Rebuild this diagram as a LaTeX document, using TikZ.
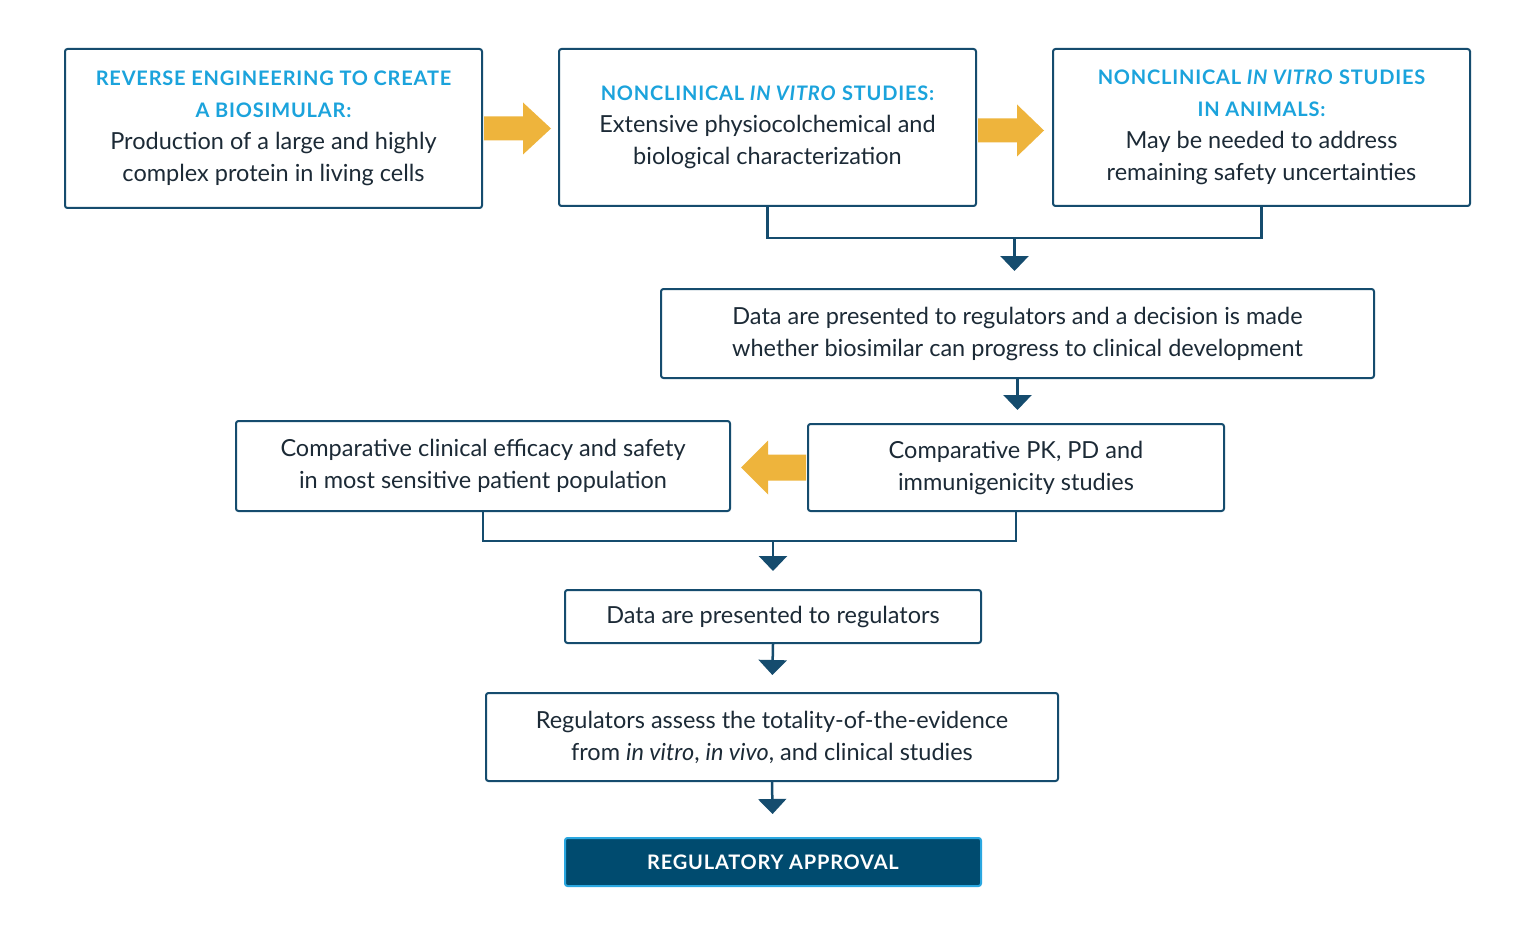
\documentclass[tikz,border=0pt]{standalone}
\usepackage{fontspec}
\setmainfont{Lato}
\usetikzlibrary{arrows.meta,calc}
\definecolor{navy}{HTML}{154C6E}
\definecolor{cyanh}{HTML}{1BA3DC}
\definecolor{gold}{HTML}{EEB43C}
\definecolor{txt}{HTML}{1C2A36}
\definecolor{appr}{HTML}{004B6F}
\definecolor{apprb}{HTML}{2AA7E0}
\newcommand\hdr[1]{{\color{cyanh}\bfseries\fontsize{20}{32}\selectfont\addfontfeatures{LetterSpace=4}#1}}
\begin{document}
\begin{tikzpicture}[x=1pt,y=-1pt,
  box/.style={draw=navy,line width=2pt,rounded corners=2.5pt,fill=white,inner sep=0pt,
    align=center,text=txt,font=\fontsize{23.5}{32}\selectfont},
  link/.style={draw=navy,line width=2.5pt},
  arr/.style={link,-{Triangle[length=15pt,width=28pt]}},
  fat/.style={fill=gold}]
\fill[white] (0,0) rectangle (1536,936);
\useasboundingbox (0,0) rectangle (1536,936);

\node[box,minimum width=417pt,minimum height=159pt] (A) at (273.5,128.5)
  {\hdr{REVERSE ENGINEERING TO CREATE}\\\hdr{A BIOSIMULAR:}\\Production of a large and highly\\complex protein in living cells};
\node[box,minimum width=417pt,minimum height=157pt,text depth=4pt] (B) at (767.5,127.5)
  {\hdr{NONCLINICAL \textit{IN VITRO} STUDIES:}\\Extensive physiocolchemical and\\biological characterization};
\node[box,minimum width=417pt,minimum height=157pt] (C) at (1261.5,127.5)
  {\hdr{NONCLINICAL \textit{IN VITRO} STUDIES}\\\hdr{IN ANIMALS:}\\May be needed to address\\remaining safety uncertainties};
\node[box,minimum width=713pt,minimum height=89pt] (D) at (1017.5,333.5)
  {Data are presented to regulators and a decision is made\\whether biosimilar can progress to clinical development};
\node[box,minimum width=494pt,minimum height=90pt] (E) at (483,466)
  {Comparative clinical efficacy and safety\\in most sensitive patient population};
\node[box,minimum width=416pt,minimum height=87pt] (F) at (1016,467.5)
  {Comparative PK, PD and\\immunigenicity studies};
\node[box,minimum width=416pt,minimum height=53pt] (G) at (773,616.5)
  {Data are presented to regulators};
\node[box,minimum width=572pt,minimum height=88pt] (H) at (772,737)
  {Regulators assess the totality-of-the-evidence\\from \textit{in vitro}, \textit{in vivo}, and clinical studies};
\node[box,draw=apprb,fill=appr,text=white,minimum width=416pt,minimum height=48pt,
  font=\bfseries\fontsize{20}{24}\selectfont\addfontfeatures{LetterSpace=4}] (I) at (773,862) {REGULATORY APPROVAL};

% yellow block arrows
\fill[fat] ($(A.east)+(1,-12)$) -- ($(A.east)+(40,-12)$) -- ($(A.east)+(40,-26)$)
  -- ($(A.east)+(68,0)$) -- ($(A.east)+(40,26)$) -- ($(A.east)+(40,12)$)
  -- ($(A.east)+(1,12)$) -- cycle;
\fill[fat] ($(B.east)+(1,-9)$) -- ($(B.east)+(40,-9)$) -- ($(B.east)+(40,-23)$)
  -- ($(B.east)+(67,3)$) -- ($(B.east)+(40,29)$) -- ($(B.east)+(40,15)$)
  -- ($(B.east)+(1,15)$) -- cycle;
\fill[fat] ($(F.west)+(-1,-13)$) -- ($(F.west)+(-39,-13)$) -- ($(F.west)+(-39,-27)$)
  -- ($(F.west)+(-66,0)$) -- ($(F.west)+(-39,27)$) -- ($(F.west)+(-39,13)$)
  -- ($(F.west)+(-1,13)$) -- cycle;

% connectors
\draw[link] (B.south) -- ++(0,31) coordinate (bb) -| (C.south);
\coordinate (j1) at ($(bb)!0.5!(bb -| C.south)$);
\draw[arr,shorten >=17pt] (j1) -- (j1 |- D.north);
\draw[arr] (D.south) -- ($(D.south)+(0,31)$);
\draw[link] (E.south) -- ++(0,29) coordinate (eb) -| (F.south);
\draw[arr,shorten >=18pt] (eb -| G.north) -- (G.north);
\draw[arr,shorten >=17pt] (G.south) -- (H.north);
\draw[arr,shorten >=23pt] (H.south) -- (I.north);
\end{tikzpicture}
\end{document}
